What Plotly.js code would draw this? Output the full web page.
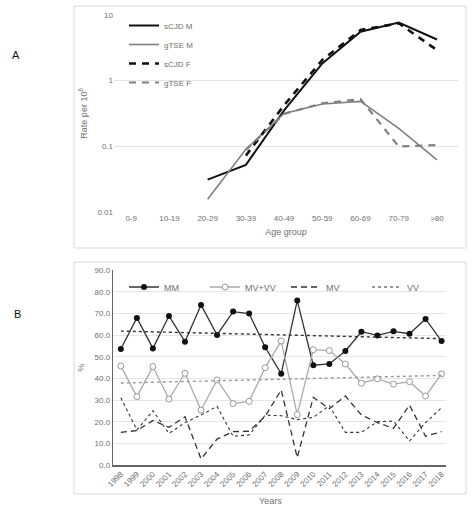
<!DOCTYPE html>
<html>
<head>
<meta charset="utf-8">
<script src="https://cdn.plot.ly/plotly-3.0.1.min.js"></script>
<style>
  html, body { margin: 0; padding: 0; background: #fff; overflow: hidden; }
  #chart { width: 474px; height: 514px; }
</style>
</head>
<body>
<div id="chart"></div>
<script>
// panel A: rate per 10^6 by age group
const ageGroups = ['0-9', '10-19', '20-29', '30-39', '40-49', '50-59', '60-69', '70-79', '>80'];
const sCJD_M = [null, null, 0.031, 0.052, 0.35, 1.82, 5.5, 7.6, 4.2];
const gTSE_M = [null, null, 0.0156, 0.09, 0.316, 0.44, 0.48, 0.187, 0.062];
const sCJD_F = [null, null, null, 0.072, 0.42, 2.05, 5.85, 7.4, 2.9];
const gTSE_F = [null, null, null, 0.088, 0.31, 0.45, 0.52, 0.099, 0.104];

// panel B: % by year
const years = ['1998', '1999', '2000', '2001', '2002', '2003', '2004', '2005', '2006', '2007', '2008',
               '2009', '2010', '2011', '2012', '2013', '2014', '2015', '2016', '2017', '2018'];
const MM = [53.6, 68.0, 53.9, 68.9, 57.0, 74.0, 60.1, 70.9, 70.0, 54.4, 42.2,
            76.0, 46.1, 46.7, 52.7, 61.6, 59.9, 61.8, 60.7, 67.5, 57.3];
const MVVV = [45.8, 31.6, 45.5, 30.5, 42.4, 25.4, 39.3, 28.4, 29.4, 45.0, 57.3,
              23.3, 53.3, 52.9, 46.7, 37.8, 39.8, 37.4, 38.5, 31.9, 42.1];
const MV = [15.1, 15.9, 20.6, 17.4, 22.3, 2.8, 12.0, 15.4, 15.6, 22.5, 34.7,
            3.4, 31.3, 26.0, 31.9, 23.1, 19.6, 16.9, 27.7, 13.3, 15.4];
const VV = [31.1, 16.2, 25.1, 14.6, 19.6, 23.1, 27.1, 13.3, 13.9, 23.0, 22.8,
            21.0, 22.0, 27.4, 15.1, 15.1, 20.0, 20.3, 11.1, 19.6, 26.5];
const trendYears = ['1998', '2018'];
const MM_trend = [61.9, 58.4];
const MVVV_trend = [37.9, 41.4];

const W = 474, H = 514;
const px = x => x / W;
const py = y => 1 - y / H;

const FAMILY = 'Liberation Sans, Arial, sans-serif';
const tickFont = {family: FAMILY, size: 8, color: '#707070'};
const titleFont = {family: FAMILY, size: 9, color: '#707070'};

function line(x, y, name, color, width, dash, xa, ya, legend) {
    return {x: x, y: y, name: name, mode: 'lines', xaxis: xa, yaxis: ya,
            line: {color: color, width: width, dash: dash}, legend: legend, connectgaps: false};
}

const traces = [
    line(ageGroups, sCJD_M, 'sCJD M', '#111', 2, 'solid', 'x', 'y', 'legend'),
    line(ageGroups, gTSE_M, 'gTSE M', '#808080', 1.6, 'solid', 'x', 'y', 'legend'),
    line(ageGroups, sCJD_F, 'sCJD F', '#111', 2.6, '7px,6px', 'x', 'y', 'legend'),
    line(ageGroups, gTSE_F, 'gTSE F', '#808080', 2.2, '7px,6px', 'x', 'y', 'legend'),

    {x: years, y: MM, name: 'MM', mode: 'lines+markers', xaxis: 'x2', yaxis: 'y2', legend: 'legend2',
     line: {color: '#333', width: 1.3}, marker: {color: '#111', size: 6}},
    {x: years, y: MVVV, name: 'MV+VV', mode: 'lines+markers', xaxis: 'x2', yaxis: 'y2', legend: 'legend2',
     line: {color: '#aaa', width: 1.3},
     marker: {color: '#fff', size: 6, line: {color: '#999', width: 1}}},
    line(years, MV, 'MV', '#333', 1.3, '6px,4px', 'x2', 'y2', 'legend2'),
    line(years, VV, 'VV', '#333', 1.1, 'dot', 'x2', 'y2', 'legend2'),
    Object.assign(line(trendYears, MM_trend, 'MM trend', '#333', 1.4, 'dot', 'x2', 'y2', 'legend2'), {showlegend: false}),
    Object.assign(line(trendYears, MVVV_trend, 'MV+VV trend', '#999', 1.4, 'dot', 'x2', 'y2', 'legend2'), {showlegend: false})
];

const layout = {
    width: W, height: H,
    margin: {l: 0, r: 0, t: 0, b: 0, autoexpand: false},
    paper_bgcolor: '#fff', plot_bgcolor: '#fff',
    font: tickFont,
    xaxis: {
        domain: [px(114), px(458)], anchor: 'y', type: 'category',
        range: [-0.45, 8.55], showgrid: false, zeroline: false, showline: false,
        ticks: '', tickfont: tickFont,
        title: {text: 'Age group', font: titleFont, standoff: 6}
    },
    yaxis: {
        domain: [py(212), py(14.7)], anchor: 'x', type: 'log',
        range: [-2, 1], tickvals: [0.01, 0.1, 1, 10], ticktext: ['0.01', '0.1', '1', '10'],
        showgrid: true, gridcolor: '#e4e4e4', zeroline: false, showline: false, ticks: '',
        tickfont: tickFont, ticklabelstandoff: 0,
        title: {text: 'Rate per 10<sup>6</sup>', font: titleFont, standoff: 8}
    },
    xaxis2: {
        domain: [px(113.3), px(446.4)], anchor: 'y2', type: 'category',
        range: [-0.47, 20.3], showgrid: false, zeroline: false,
        showline: true, linecolor: '#666', linewidth: 1.5,
        ticks: '', tickangle: -45, tickfont: tickFont
    },
    yaxis2: {
        domain: [py(465), py(270.3)], anchor: 'x2',
        range: [0, 90], dtick: 10, tickformat: '.1f',
        showgrid: true, gridcolor: '#e6e6e6', zeroline: false,
        showline: true, linecolor: '#666', linewidth: 1.5, ticks: '',
        tickfont: tickFont,
        title: {text: '%', font: titleFont, standoff: 8}
    },
    legend: {
        x: px(124), y: py(11), xanchor: 'left', yanchor: 'top',
        orientation: 'v', bgcolor: 'rgba(0,0,0,0)', tracegroupgap: 0,
        font: {family: FAMILY, size: 8, color: '#707070'}
    },
    legend2: {
        x: px(124), y: py(287), xanchor: 'left', yanchor: 'middle',
        orientation: 'h', bgcolor: 'rgba(0,0,0,0)', entrywidth: 36,
        font: {family: FAMILY, size: 9, color: '#707070'}
    },
    shapes: [
        {type: 'rect', xref: 'paper', yref: 'paper', x0: px(74), x1: px(466), y0: py(248), y1: py(6),
         line: {color: '#d9d9d9', width: 1}},
        {type: 'rect', xref: 'paper', yref: 'paper', x0: px(74), x1: px(466), y0: py(494), y1: py(262),
         line: {color: '#d9d9d9', width: 1}}
    ],
    annotations: [
        {text: 'A', xref: 'paper', yref: 'paper', x: px(10), y: py(47), showarrow: false,
         font: {family: FAMILY, size: 11, color: '#111'}},
        {text: 'B', xref: 'paper', yref: 'paper', x: px(12), y: py(314), showarrow: false,
         font: {family: FAMILY, size: 11, color: '#111'}},
        {text: 'Years', xref: 'paper', yref: 'paper', x: px(270), y: py(508), showarrow: false,
         font: titleFont}
    ]
};

Plotly.newPlot('chart', traces, layout, {displayModeBar: false, staticPlot: true});
</script>
</body>
</html>
